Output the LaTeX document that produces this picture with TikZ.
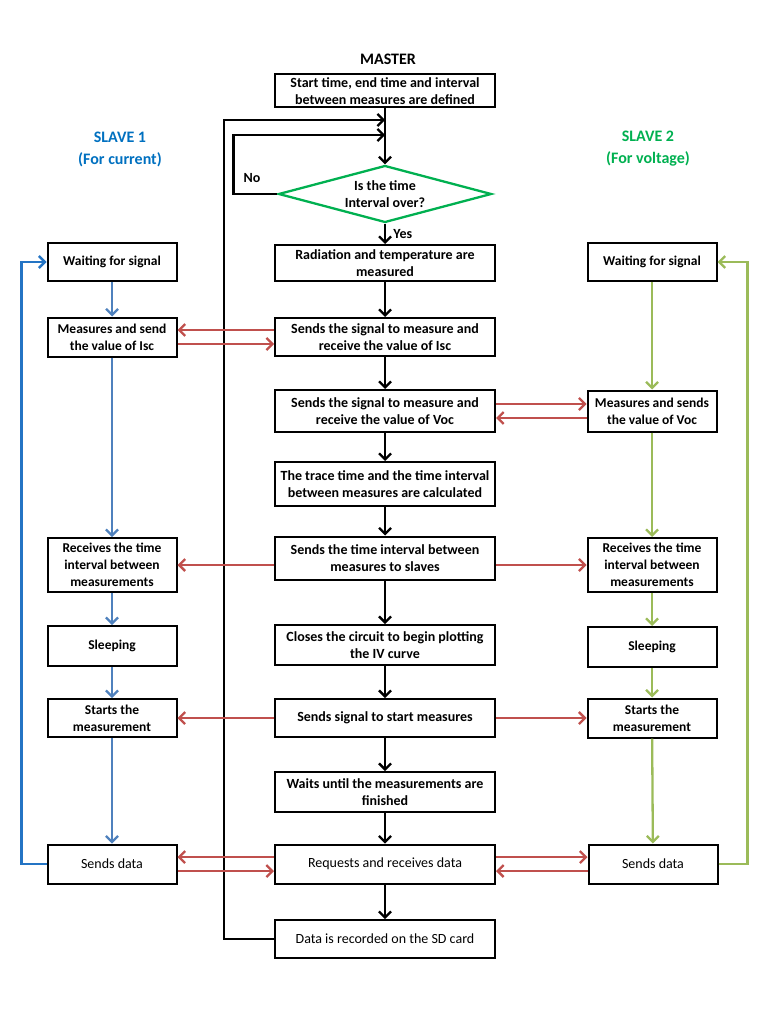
\documentclass[tikz,border=0pt]{standalone}
\usepackage{fontspec}
\setmainfont{Carlito}
\usetikzlibrary{arrows.meta,shapes.geometric}

\begin{document}
\begin{tikzpicture}[x=1pt, y=-1pt,
    box/.style={draw, line width=2pt, align=center, inner sep=1pt, font=\bfseries\fontsize{14}{17}\selectfont},
    mbox/.style={box, minimum width=220pt},
    sbox/.style={box, minimum width=129pt, inner sep=0pt, font=\bfseries\fontsize{13.5}{17}\selectfont},
    plain/.style={font=\fontsize{14}{17}\selectfont},
    flow/.style={-{Straight Barb[length=6pt,width=12pt]}, line width=2.3pt},
    sig/.style={-{Straight Barb[length=6pt,width=12pt]}, line width=2.3pt, sigred},
    bflow/.style={-{Straight Barb[length=6pt,width=12pt]}, line width=2.3pt, slaveblue},
    gflow/.style={-{Straight Barb[length=6pt,width=12pt]}, line width=2.3pt, slavegreen}]
    \definecolor{sigred}{RGB}{192,80,77}
    \definecolor{slaveblue}{RGB}{79,129,189}
    \definecolor{loopblue}{RGB}{36,116,196}
    \definecolor{slavegreen}{RGB}{155,187,89}
    \definecolor{titleblue}{RGB}{0,112,192}
    \definecolor{titlegreen}{RGB}{0,176,80}

    \useasboundingbox (0,0) rectangle (768,1024);

    % Titles
    \node[font=\bfseries\fontsize{16}{18}\selectfont] (tm) at (388,59) {MASTER};
    \node[font=\bfseries\fontsize{16}{22}\selectfont, text=titleblue, align=center] (ts1) at (120,149) {SLAVE 1\\(For current)};
    \node[font=\bfseries\fontsize{16}{22}\selectfont, text=titlegreen, align=center] (ts2) at (648,149) {SLAVE 2\\(For voltage)};

    % Master
    \node[mbox, minimum height=33pt] (m0) at (385,91) {Start time, end time and interval\\between measures are defined};
    \node[draw=titlegreen, line width=2.3pt, diamond, aspect=3.7, inner sep=0pt, minimum width=213pt, minimum height=57pt, align=center, font=\bfseries\fontsize{14}{17}\selectfont] (d) at (385,194) {Is the time\\Interval over?};
    \node[mbox, minimum height=36pt] (m1) at (385,263) {Radiation and temperature are\\measured};
    \node[mbox, minimum height=38pt] (m2) at (385,337) {Sends the signal to measure and\\receive the value of Isc};
    \node[mbox, minimum height=42pt] (m3) at (385,411) {Sends the signal to measure and\\receive the value of Voc};
    \node[mbox, minimum height=44pt] (m4) at (385,484) {The trace time and the time interval\\between measures are calculated};
    \node[mbox, minimum height=43pt] (m5) at (385,558) {Sends the time interval between\\measures to slaves};
    \node[mbox, minimum height=40pt] (m6) at (385,645) {Closes the circuit to begin plotting\\the IV curve};
    \node[mbox, minimum height=38pt] (m7) at (385,718) {Sends signal to start measures};
    \node[mbox, minimum height=40pt] (m8) at (385,792) {Waits until the measurements are\\finished};
    \node[mbox, plain, minimum height=39pt] (m9) at (385,864) {Requests and receives data};
    \node[mbox, plain, minimum height=38pt] (m10) at (385,939) {Data is recorded on the SD card};
    \coordinate (j1) at (385,120);
    \coordinate (j2) at (385,135);

    % Slave 1
    \node[sbox, minimum height=38pt] (a1) at (112,262) {Waiting for signal};
    \node[sbox, minimum height=39pt] (a2) at (112,337) {Measures and send\\the value of Isc};
    \node[sbox, minimum height=54pt] (a3) at (112,565) {Receives the time\\interval between\\measurements};
    \node[sbox, minimum height=40pt] (a4) at (112,646) {Sleeping};
    \node[sbox, minimum height=38pt] (a5) at (112,718) {Starts the\\measurement};
    \node[sbox, plain, minimum height=39pt] (a6) at (112,864) {Sends data};

    % Slave 2
    \node[sbox, minimum height=38pt] (b1) at (652,262) {Waiting for signal};
    \node[sbox, minimum height=41pt] (b2) at (652,411) {Measures and sends\\the value of Voc};
    \node[sbox, minimum height=54pt] (b3) at (652,565) {Receives the time\\interval between\\measurements};
    \node[sbox, minimum height=40pt] (b4) at (652,647) {Sleeping};
    \node[sbox, minimum height=39pt] (b5) at (652,718) {Starts the\\measurement};
    \node[sbox, plain, minimum height=39pt] (b6) at (653,864) {Sends data};

    % Master flow
    \draw[flow] (m0) -- (d);
    \draw[flow] (d) -- (m1) node[pos=0.5, right=4pt, font=\bfseries\fontsize{14}{17}\selectfont] (yes) {Yes};
    \draw[flow] (m1) -- (m2);
    \draw[flow] (m2) -- (m3);
    \draw[flow] (m3) -- (m4);
    \draw[flow] (m4) -- (m5);
    \draw[flow] (m5) -- (m6);
    \draw[flow] (m6) -- (m7);
    \draw[flow] (m7) -- (m8);
    \draw[flow] (m8) -- (m9);
    \draw[flow] (m9) -- (m10);
    \draw[flow] (m10.west) -- ++(-50,0) |- (j1);
    \draw[flow] (d.west) -- ++(-44,0) |- (j2);
    \node[font=\bfseries\fontsize{14}{17}\selectfont] (no) at (252,178) {No};

    % Slave 1 flow
    \draw[bflow] (a1) -- (a2);
    \draw[bflow] (a2) -- (a3);
    \draw[bflow] (a3) -- (a4);
    \draw[bflow] (a4) -- (a5);
    \draw[bflow] (a5) -- (a6);
    \draw[bflow, loopblue] (a6.west) -- ++(-25,0) |- (a1.west);

    % Slave 2 flow
    \draw[gflow] (b1) -- (b2);
    \draw[gflow] (b2) -- (b3);
    \draw[gflow] (b3) -- (b4);
    \draw[gflow] (b4) -- (b5);
    \draw[gflow] (b5) -- (b6);
    \draw[gflow] (b6.east) -- ++(29,0) |- (b1.east);

    % Signals
    \draw[sig] ([yshift=7pt]m2.west) -- ([yshift=7pt]a2.east);
    \draw[sig] ([yshift=-7pt]a2.east) -- ([yshift=-7pt]m2.west);
    \draw[sig] ([yshift=7pt]m3.east) -- ([yshift=7pt]b2.west);
    \draw[sig] ([yshift=-7pt]b2.west) -- ([yshift=-7pt]m3.east);
    \draw[sig] (m5.west |- a3.east) -- (a3.east);
    \draw[sig] (m5.east |- b3.west) -- (b3.west);
    \draw[sig] (m7.west) -- (a5.east);
    \draw[sig] (m7.east) -- (b5.west);
    \draw[sig] ([yshift=7pt]m9.west) -- ([yshift=7pt]a6.east);
    \draw[sig] ([yshift=-7pt]a6.east) -- ([yshift=-7pt]m9.west);
    \draw[sig] ([yshift=7pt]m9.east) -- ([yshift=7pt]b6.west);
    \draw[sig] ([yshift=-7pt]b6.west) -- ([yshift=-7pt]m9.east);
\end{tikzpicture}
\end{document}
